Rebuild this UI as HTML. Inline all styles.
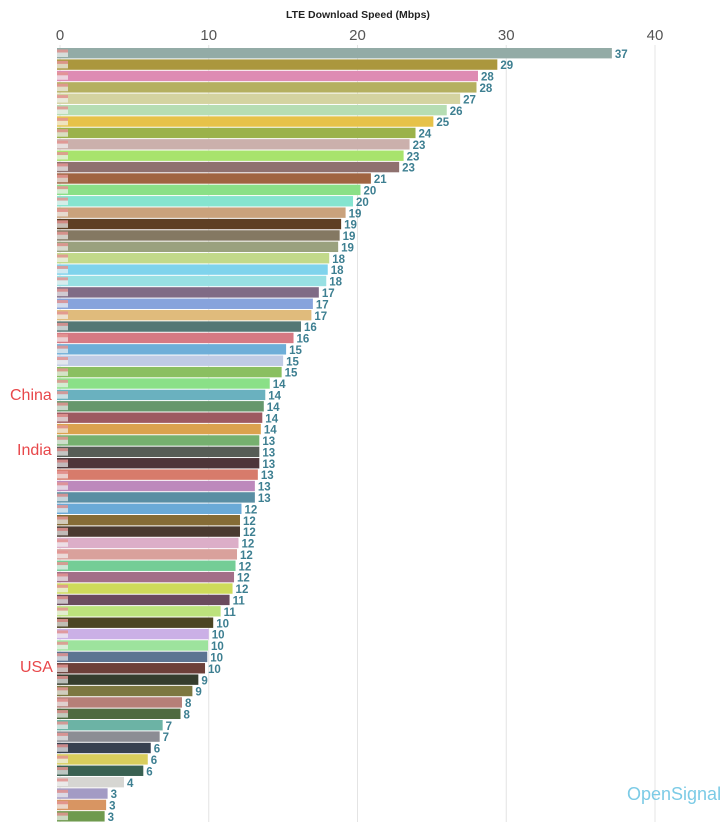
<!DOCTYPE html>
<html><head><meta charset="utf-8"><style>
body{margin:0;background:#fff;width:720px;height:826px;overflow:hidden;font-family:"Liberation Sans",sans-serif}
</style></head><body>
<svg id="chart" width="720" height="826" xmlns="http://www.w3.org/2000/svg">
<text x="358" y="18" text-anchor="middle" font-size="10.5" font-weight="bold" fill="#222">LTE Download Speed (Mbps)</text>
<g id="grid"></g><g id="bars"></g>
<text x="10" y="400" font-size="16" fill="#e8474a">China</text>
<text x="17" y="455" font-size="16" fill="#e8474a">India</text>
<text x="20" y="672" font-size="16" fill="#e8474a">USA</text>
<text x="627" y="800" font-size="18" fill="#7ccbe6">OpenSignal</text>
</svg>
<script>
const values=[37.1,29.4,28.1,28.0,26.9,26.0,25.1,23.9,23.5,23.1,22.8,20.9,20.2,19.7,19.2,18.9,18.8,18.7,18.1,18.0,17.9,17.4,17.0,16.9,16.2,15.7,15.2,15.0,14.9,14.1,13.8,13.7,13.6,13.5,13.4,13.4,13.4,13.3,13.1,13.1,12.2,12.1,12.1,12.0,11.9,11.8,11.7,11.6,11.4,10.8,10.3,10.0,9.95,9.9,9.75,9.3,8.9,8.2,8.1,6.9,6.7,6.1,5.9,5.6,4.3,3.2,3.1,3.0];
const labels=[37,29,28,28,27,26,25,24,23,23,23,21,20,20,19,19,19,19,18,18,18,17,17,17,16,16,15,15,15,14,14,14,14,14,13,13,13,13,13,13,12,12,12,12,12,12,12,12,11,11,10,10,10,10,10,9,9,8,8,7,7,6,6,6,4,3,3,3];
const ticks=[0,10,20,30,40];
const colors=["#93aba6","#ab973d","#de8bb3","#b5b060","#d4d3a0","#b6ddb3","#e6c249","#9bb24a","#cbb0ac","#a8e36d","#8f716f","#a06441","#8ae087","#85e4cf","#caa27c","#5e3f23","#847862","#9aa17e","#c2d98a","#7fd3ec","#98e0e3","#806b86","#87a3dc","#e0bb7c","#547775","#d67983","#6eaed8","#bfcbe4","#8abf60","#8ae087","#6ab1bf","#66976c","#9d5a61","#dba24e","#76b06f","#575d56","#4e3539","#d77b6b","#bd89bc","#5a8ea3","#6aaad7","#856c36","#4a3a30","#dcaec8","#d9a19c","#74cd96","#a36f88","#cedb5a","#6a4b5e","#bce27c","#4c4523","#cbb0e6","#9de39d","#5c7492","#6d4039","#353d2d","#7c7740","#b67f78","#4f6a3f","#6cb3a5","#8c8d94","#374150","#d8cd5c","#3a6152","#d6d6d2","#a39bc4","#d89562","#6f9a4e"];
const NS="http://www.w3.org/2000/svg";
const x=v=>60+v*14.875;
const y=i=>48+i*11.39;
function mk(t,a,p){const e=document.createElementNS(NS,t);for(const k in a)e.setAttribute(k,a[k]);p.appendChild(e);return e;}
const grid=document.getElementById('grid'),bars=document.getElementById('bars');
ticks.forEach(t=>{
 const l=mk('line',{x1:x(t),x2:x(t),y1:45,y2:822,stroke:'#e4e4e4','stroke-width':1},grid);
 
 
 const tx=mk('text',{x:x(t),y:40,'text-anchor':'middle','font-size':15,fill:'#555'},grid);
 tx.textContent=t;
 
 
});
values.forEach((v,i)=>{
 const r=mk('rect',{x:57,y:y(i),width:x(v)-57,height:10.4,fill:colors[i]},bars);
 
 
 const f=mk('rect',{x:57,y:y(i)+1.5,width:11,height:7.5,fill:'#f2f2f2',opacity:0.7},bars);
 
 
 const fs=mk('rect',{x:57,y:y(i)+1.5,width:11,height:3,fill:'#d9534f',opacity:0.5},bars);
 
 
 const t=mk('text',{x:x(v)+3,y:y(i)+9.8,'font-size':11.5,'font-weight':'bold',fill:'#3d7f91'},bars);
 t.textContent=labels[i];
 
 
});
</script>
</body></html>
